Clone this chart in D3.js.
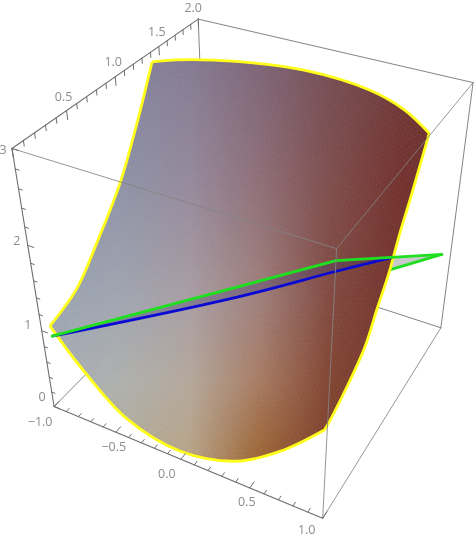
<!DOCTYPE html>
<html><head><meta charset="utf-8"><style>html,body{margin:0;background:#fff}svg{display:block;filter:blur(.45px)}text{font-family:"Open Sans",sans-serif;font-size:12.5px;fill:#8c8c8c;text-anchor:middle;dominant-baseline:central}</style></head>
<body><script src="https://cdn.jsdelivr.net/npm/d3@7"></script><script>
// ---- data: [x, y, z] ----
const leftEdge=[[-1,1.41,2.89],[-1,1.20,2.39],[-1,.95,1.87],[-1,.65,1.44],[-1,.38,1.11],[-1,.08,.97]];
const bottomEdge=[[-1,.08,.97],[-.73,0,.73],[-.40,0,.26],[0,0,.11],[.41,0,.29],[.71,0,.65],[1,-.04,1.18]];
const rightEdge=[[1,-.04,1.18],[1,.02,1.19],[1,.47,1.47],[1,.63,1.75],[1,.78,2.00],[1,.90,2.30],[1,1.02,2.54],[1,1.24,3.03]];
const topEdge=[[-1,1.41,2.89],[-.85,1.48,2.92],[-.40,1.48,3.06],[.08,1.48,3.14],[.52,1.48,3.10],[.75,1.48,2.99],[1,1.24,3.03]];
const greenUpper=[[-.92,0,.98],[1,0,2.89],[1,1.79,1.21]];
const greenLower=[[1,1.79,1.21],[1,.87,1.95],[1,.72,2.07]];
const blueLine=[[-.92,0,.98],[.43,0,2.22],[1,0,2.79],[1,.81,2.13]];
const xTicks=[-1,-.5,0,.5,1], yTicks=[0,.5,1,1.5,2], zTicks=[0,1,2,3];
const xLabels=["−1.0","−0.5","0.0","0.5","1.0"], yLabels=["","0.5","1.0","1.5","2.0"], zLabels=["0","1","2","3"];
const xMinor=d3.range(-10,11).map(d=>d/10), yMinor=d3.range(0,21).map(d=>d/10), zMinor=d3.range(0,16).map(d=>d/5);
// surface shading sampled along screen rows
const shadeRows=[
 ["#83839e","#83839e","#857b92","#7e6578","#764e55","#703d3e","#6d3433"],
 ["#8d91a6","#8e92a6","#95899c","#8f6f78","#7f4f4e","#74332f","#70302c"],
 ["#9aa3b0","#a0a5b0","#a99ea4","#a0807c","#824a41","#74322b","#702e28"],
 ["#a8aeb4","#aeb0ae","#b4a89c","#a87c64","#824632","#743129","#702e28"],
 ["#aeb0a8","#b2ad9a","#b8a386","#9c6434","#7c3c29","#723026","#702e26"]];
// ---- layout ----
const W=474,H=538;
const sx=d3.scaleLinear([-1,1],[0,1]),sy=d3.scaleLinear([0,2],[0,1]),sz=d3.scaleLinear([0,3],[0,1]);
const shadeX=d3.scaleLinear([50,120,190,260,330,400,430],d3.range(7)).clamp(true),shadeY=d3.scaleLinear([60,180,300,380,460],d3.range(5)).clamp(true);
function project([x,y,z]){const a=sx(x),b=sy(y),c=sz(z),w=-.11177*a+.2146*b-.17757*c+1.05588;
 return[(247.53*a+206.15*b-46.647*c+57.135)/w,(60.138*a-109.515*b-298.753*c+429.193)/w];}
const line=d3.line().curve(d3.curveCatmullRom.alpha(.5));
const svg=d3.select("body").append("svg").attr("width",W).attr("height",H);
const seg=(g,pts,st,w)=>g.append("path").attr("d",d3.line()(pts.map(project))).attr("fill","none").attr("stroke",st).attr("stroke-width",w).attr("stroke-linejoin","round").attr("stroke-linecap","round");
const grey="#848484";
// back of the box
const back=svg.append("g");
[[[-1,2,3],[1,2,3]],[[-1,2,3],[-1,2,0]],[[-1,0,0],[-1,2,0]],[[-1,2,0],[1,2,0]],[[1,2,0],[1,2,3]]].forEach(e=>seg(back,e,grey,1));
// part of the triangle behind the surface
const tri=svg.append("g");
tri.append("path").attr("d",d3.line()([blueLine[3],greenUpper[2],greenLower[1],greenLower[2]].map(project))+"Z").attr("fill","#c6c8ca");
seg(tri,greenLower,"#1fdd1f",2.8);
// surface mesh
function sampler(edge){const p=svg.append("path").attr("d",line(edge.map(project))).attr("fill","none"),n=p.node(),L=n.getTotalLength();
 const f=t=>{const q=n.getPointAtLength(t*L);return[q.x,q.y];};p.remove();return f;}
const fb=sampler(bottomEdge),ft=sampler(topEdge),fl=sampler([...leftEdge].reverse()),fr=sampler(rightEdge);
const c00=fb(0),c10=fb(1),c01=ft(0),c11=ft(1);
const N=64,grid=[];
for(let i=0;i<=N;i++){const u=i/N,row=[],B=fb(u),T=ft(u);for(let j=0;j<=N;j++){const v=j/N,Lf=fl(v),Rg=fr(v);
 row.push([0,1].map(k=>(1-v)*B[k]+v*T[k]+(1-u)*Lf[k]+u*Rg[k]-((1-u)*(1-v)*c00[k]+u*(1-v)*c10[k]+(1-u)*v*c01[k]+u*v*c11[k])));}grid.push(row);}
function shade(px,py){const fx=shadeX(px),fy=shadeY(py),i=Math.min(5,Math.floor(fx)),j=Math.min(3,Math.floor(fy));
 const a=d3.interpolateRgb(shadeRows[j][i],shadeRows[j][i+1])(fx-i),b=d3.interpolateRgb(shadeRows[j+1][i],shadeRows[j+1][i+1])(fx-i);return d3.interpolateRgb(a,b)(fy-j);}
const quads=[];for(let i=0;i<N;i++)for(let j=0;j<N;j++){const q=[grid[i][j],grid[i+1][j],grid[i+1][j+1],grid[i][j+1]];quads.push({q,c:shade(d3.mean(q,d=>d[0]),d3.mean(q,d=>d[1]))});}
svg.append("g").selectAll("path").data(quads).join("path").attr("d",d=>d3.line()(d.q)+"Z").attr("fill",d=>d.c).attr("stroke",d=>d.c).attr("stroke-width",.7);
// darker sheet between green and blue, in front of the surface
const sheet=[...greenUpper.slice(0,2),blueLine[3],blueLine[2],blueLine[1],blueLine[0]];
svg.append("path").attr("d",d3.line()(sheet.map(project))+"Z").attr("fill","#3c3a70").attr("fill-opacity",.32);
// surface outline
const out=svg.append("g").attr("fill","none").attr("stroke","#ffff1a").attr("stroke-width",2.8).attr("stroke-linejoin","round");
[leftEdge,bottomEdge,rightEdge,topEdge].forEach(e=>out.append("path").attr("d",line(e.map(project))));
// lines
svg.append("path").attr("d",line(blueLine.map(project))).attr("fill","none").attr("stroke","#0a0ad2").attr("stroke-width",2.8);
seg(svg,greenUpper,"#1fe01f",2.8);
// front of the box
const front=svg.append("g");
[[[-1,0,3],[1,0,3]],[[1,0,3],[1,2,3]],[[1,0,3],[1,0,0]],[[1,0,0],[1,2,0]]].forEach(e=>seg(front,e,grey,1).attr("stroke-opacity",.85));
[[[-1,0,3],[-1,2,3]],[[-1,0,3],[-1,0,0]],[[-1,0,0],[1,0,0]]].forEach(e=>seg(front,e,"#6e6e6e",1.1));
// ticks
const tick=(vals,major,at,d,len)=>vals.forEach(v=>{const M=major.some(m=>Math.abs(m-v)<1e-6),k=M?len:len*.6,p=at(v);seg(front,[p,p.map((c,i)=>c+d[i]*k)],"#6e6e6e",1);});
tick(xMinor,xTicks,v=>[v,0,0],[0,1,0],.055);
tick(yMinor,yTicks,v=>[-1,v,3],[0,0,-1],.09);
tick(zMinor,zTicks,v=>[-1,0,v],[1,0,0],.045);
// labels
const lab=(vals,txt,at,off)=>vals.forEach((v,i)=>{if(!txt[i])return;const p=project(at(v));svg.append("text").attr("x",p[0]+off[i][0]).attr("y",p[1]+off[i][1]).text(txt[i]);});
lab(xTicks,xLabels,v=>[v,0,0],[[-14,15],[-2,14.5],[-14,14],[-3,14],[-16,11]]);
lab(yTicks,yLabels,v=>[-1,v,3],[[0,0],[-3,-14.5],[-2,-15],[-2,-15],[-5,-12]]);
lab(zTicks,zLabels,v=>[-1,0,v],[[-12,-10],[-14,-6],[-11,-5],[-9,1]]);
</script></body></html>
